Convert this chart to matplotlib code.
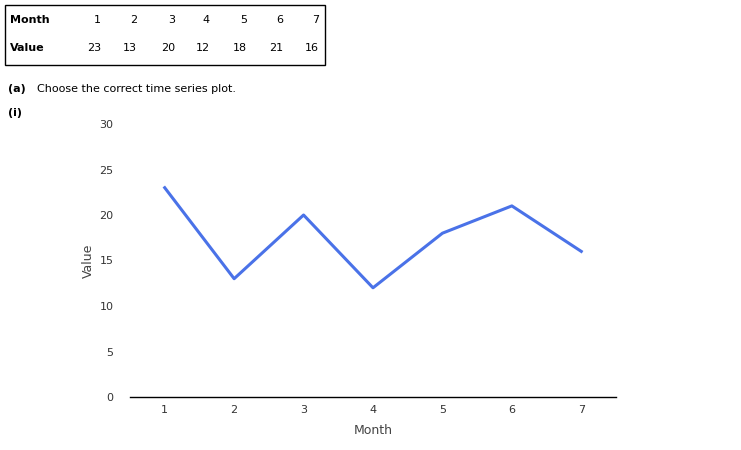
import matplotlib
matplotlib.use("Agg")
import matplotlib.pyplot as plt
from matplotlib.patches import Rectangle

months = [1, 2, 3, 4, 5, 6, 7]
values = [23, 13, 20, 12, 18, 21, 16]
yticks = [0, 5, 10, 15, 20, 25, 30]

W, H = 741, 450
fig = plt.figure(figsize=(W/100, H/100), dpi=100)

def px(x, y):
    return x / W, 1 - y / H

# table
fig.patches.append(Rectangle(px(5, 65), 320/W, 60/H, transform=fig.transFigure,
                             fill=False, edgecolor='black', linewidth=1))
colx = [101, 137, 175, 210, 247, 283, 319]
fig.text(*px(10, 20), "Month", fontsize=8, fontweight='bold', va='center')
fig.text(*px(10, 48), "Value", fontsize=8, fontweight='bold', va='center')
for x, m, v in zip(colx, months, values):
    fig.text(*px(x, 20), str(m), fontsize=8, ha='right', va='center')
    fig.text(*px(x, 48), str(v), fontsize=8, ha='right', va='center')

fig.text(*px(8, 89), "(a)", fontsize=8, fontweight='bold', va='center')
fig.text(*px(37, 89), "Choose the correct time series plot.", fontsize=8, va='center')
fig.text(*px(8, 113), "(i)", fontsize=8, fontweight='bold', va='center')

ax = fig.add_axes([130/W, 1 - 397/H, 486/W, 273/H])
ax.plot(months, values, color='#4a72e8', linewidth=2.2)
ax.set_xlim(0.5, 7.5)
ax.set_ylim(0, 30)
ax.set_xticks(months)
ax.set_yticks(yticks)
for s in ['top', 'right', 'left']:
    ax.spines[s].set_visible(False)
ax.spines['bottom'].set_linewidth(1)
ax.tick_params(axis='both', length=0, labelsize=8, colors='#333333')
ax.tick_params(axis='y', pad=12)
ax.tick_params(axis='x', pad=6)
ax.set_xlabel("Month", fontsize=9, color='#444444', labelpad=6)
ax.set_ylabel("Value", fontsize=9, color='#444444', labelpad=3)

fig.savefig("out.png", dpi=100)
